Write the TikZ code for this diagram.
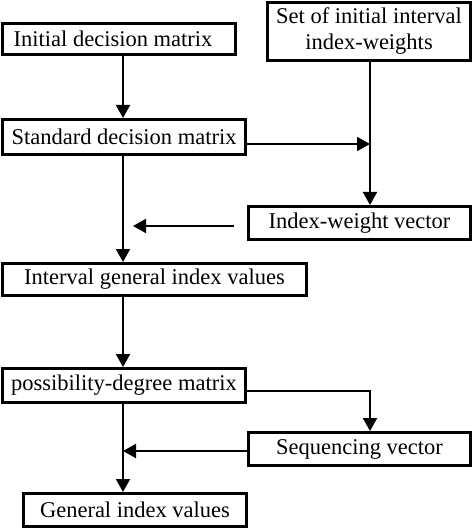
\documentclass[tikz,border=0pt]{standalone}
\usepackage{fontspec}
\setmainfont{Liberation Serif}
\usetikzlibrary{arrows.meta}
\begin{document}
\begin{tikzpicture}[x=1bp,y=-1bp,
  box/.style={draw,line width=3bp,inner sep=0pt,align=center,
    font=\fontsize{22.5bp}{26bp}\selectfont},
  conn/.style={line width=2bp},
  arr/.style={conn,-{Triangle[length=13bp,width=14bp]}}]
\useasboundingbox (0,0) rectangle (474,529);
\coordinate (L) at (123,0);
\coordinate (Lg) at (133,0);
\coordinate (R) at (370,0);
\node[box,minimum width=233bp,minimum height=31bp] (B1) at (119,39) {Initial decision matrix\hspace*{12bp}};
\node[box,minimum width=203bp,minimum height=58bp] (B2) at (369,31.5) {Set of initial interval\\index-weights};
\node[box,minimum width=243bp,minimum height=35bp] (B3) at (124,137) {Standard decision matrix};
\node[box,minimum width=222bp,minimum height=33bp] (B4) at (359.5,223) {Index-weight vector};
\node[box,minimum width=304bp,minimum height=32bp] (B5) at (154.5,279.5) {Interval general index values};
\node[box,minimum width=243bp,minimum height=34bp] (B6) at (124,385.5) {possibility-degree matrix};
\node[box,minimum width=222bp,minimum height=33bp] (B7) at (359.5,449) {Sequencing vector};
\node[box,minimum width=223bp,minimum height=33bp] (B8) at (135,510) {General index values};
% connectors
\draw[arr] (B1.south -| L) -- (B3.north -| L);
\path (B3.east) ++(0,7) coordinate (s1);
\draw[arr] (s1) -- (s1 -| R);
\draw[arr] (B2.south -| R) -- (B4.north -| R);
\path (B4.west) ++(-13,3) coordinate (s2);
\draw[arr] (s2) -- (s2 -| Lg);
\draw[arr] (B3.south -| L) -- (B5.north -| L);
\draw[arr] (B5.south -| L) -- (B6.north -| L);
\path (B6.east) ++(0,5.5) coordinate (s3);
\draw[arr] (s3) -| (B7.north -| R);
\path (B7.west) ++(0,2) coordinate (s4);
\draw[arr] (s4) -- (s4 -| L);
\draw[arr] (B6.south -| L) -- (B8.north -| L);
\end{tikzpicture}
\end{document}
